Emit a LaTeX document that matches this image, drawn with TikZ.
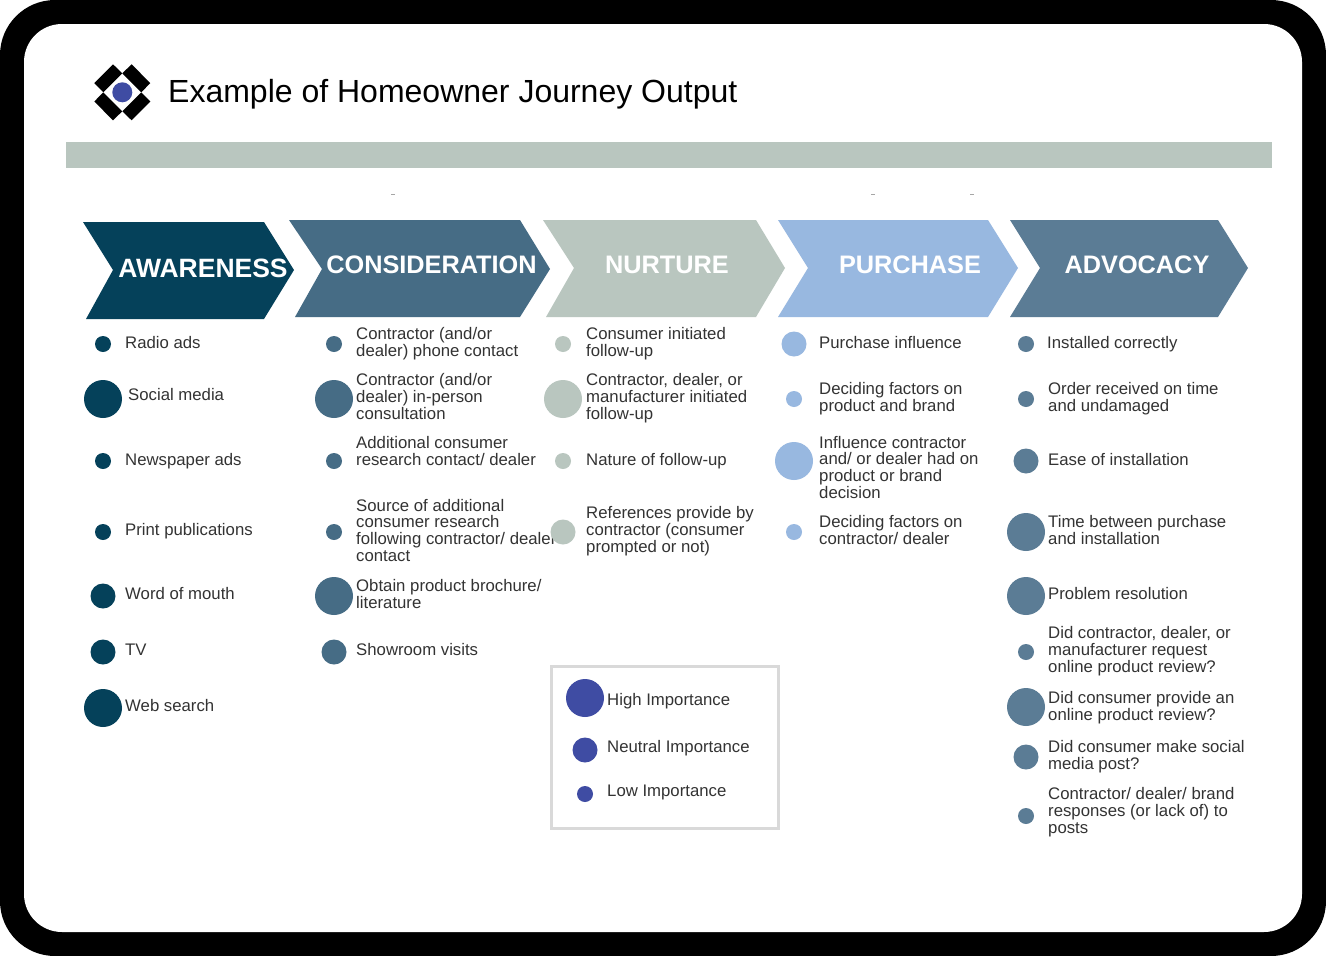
\documentclass[tikz,border=0pt]{standalone}
\usepackage{fontspec}
\setmainfont{Liberation Sans}
\definecolor{awcol}{HTML}{05415A}
\definecolor{cocol}{HTML}{466C85}
\definecolor{nucol}{HTML}{B9C6BF}
\definecolor{pucol}{HTML}{98B8E0}
\definecolor{adcol}{HTML}{5B7C95}
\definecolor{legcol}{HTML}{3F4CA3}
\definecolor{txtcol}{HTML}{333333}

\begin{document}
\begin{tikzpicture}[x=1pt, y=-1pt,
hdr/.style={text=white, font=\bfseries\fontsize{25.3}{25}\selectfont, inner sep=0},
lab/.style={anchor=west, align=left, text=txtcol, inner sep=0, text height=12.2pt, text depth=0pt, font=\fontsize{16.75}{16.6}\selectfont},
dot/.style={circle, inner sep=0},
lo/.style={dot, minimum size=16pt},
mid/.style={dot, minimum size=25pt},
hi/.style={dot, minimum size=38pt}]
	\useasboundingbox (0,0) rectangle (1326,956);
	\fill[black, rounded corners=55pt] (0,0) rectangle (1326,956);
	\fill[white, rounded corners=38pt] (24,24) rectangle (1302,932);
	% title
	\fill[black] (113,64.3) -- (94.3,83.1) -- (103.3,92.3) -- (122.3,73.3) -- cycle;
	\fill[black] (131.6,64.3) -- (150.3,83.1) -- (141.3,92.3) -- (122.3,73.3) -- cycle;
	\fill[black] (113,120.3) -- (94.3,101.5) -- (103.3,92.3) -- (122.3,111.3) -- cycle;
	\fill[black] (131.6,120.3) -- (150.3,101.5) -- (141.3,92.3) -- (122.3,111.3) -- cycle;
	\node[dot, fill=legcol, minimum size=20pt] at (122.3,92.3) (logo) {};
	\node[anchor=west, inner sep=0, font=\fontsize{32}{36}\selectfont] at (168,94) (title) {Example of Homeowner Journey Output};
	\fill[nucol] (66,142) rectangle (1272,168);
	\fill[gray!70] (391,193.5) rectangle (395,195);
	\fill[gray!70] (871,193.5) rectangle (875,195);
	\fill[gray!70] (970,193.5) rectangle (974,195);
	% chevrons
	\fill[awcol] (83,222) -- (264,222) -- (294,270) -- (264,319) -- (86,319) -- (113,270) -- cycle;
	\fill[cocol] (289,220) -- (520,220) -- (550,269) -- (520,317) -- (295,317) -- (322,269) -- cycle;
	\fill[nucol] (543,220) -- (756,220) -- (785,268) -- (756,317) -- (546,317) -- (574,268) -- cycle;
	\fill[pucol] (778,220) -- (988,220) -- (1018,268) -- (988,317) -- (778,317) -- (808,268) -- cycle;
	\fill[adcol] (1010,220) -- (1218,220) -- (1248,268) -- (1218,317) -- (1010,317) -- (1040,268) -- cycle;
	\node[hdr, font=\bfseries\fontsize{26.5}{25}\selectfont] at (203,268) (aw) {AWARENESS};
	\node[hdr] at (431.5,265) (co) {CONSIDERATION};
	\node[hdr] at (667,265) (nu) {NURTURE};
	\node[hdr] at (910,265) (pu) {PURCHASE};
	\node[hdr] at (1137,265) (ad) {ADVOCACY};
	% awareness
	\node[lab] at (125,342) (awt1) {Radio ads};
	\node[lab] at (128,394) (awt2) {Social media};
	\node[lab] at (125,459) (awt3) {Newspaper ads};
	\node[lab] at (125,529) (awt4) {Print publications};
	\node[lab] at (125,593) (awt5) {Word of mouth};
	\node[lab] at (125,649) (awt6) {TV};
	\node[lab] at (125,705) (awt7) {Web search};
	\node[lo, fill=awcol] at (103,344) (aw1) {};
	\node[hi, fill=awcol] at (103,399) (aw2) {};
	\node[lo, fill=awcol] at (103,461) (aw3) {};
	\node[lo, fill=awcol] at (103,532) (aw4) {};
	\node[mid, fill=awcol] at (103,596) (aw5) {};
	\node[mid, fill=awcol] at (103,652) (aw6) {};
	\node[hi, fill=awcol] at (103,708) (aw7) {};
	% consideration (labels are placed by their last line)
	\node[lab] at (356,350) (cot1) {Contractor (and/or\\dealer) phone contact};
	\node[lab] at (356,413) (cot2) {Contractor (and/or\\dealer) in-person\\consultation};
	\node[lab] at (356,459) (cot3) {Additional consumer\\research contact/ dealer};
	\node[lab] at (356,555) (cot4) {Source of additional\\consumer research\\following contractor/ dealer\\contact};
	\node[lab] at (356,602) (cot5) {Obtain product brochure/\\literature};
	\node[lab] at (356,649) (cot6) {Showroom visits};
	\node[lo, fill=cocol] at (334,344) (co1) {};
	\node[hi, fill=cocol] at (334,399) (co2) {};
	\node[lo, fill=cocol] at (334,461) (co3) {};
	\node[lo, fill=cocol] at (334,532) (co4) {};
	\node[hi, fill=cocol] at (334,596) (co5) {};
	\node[mid, fill=cocol] at (334,652) (co6) {};
	% nurture
	\node[lab] at (586,350) (nut1) {Consumer initiated\\follow-up};
	\node[lab] at (586,413) (nut2) {Contractor, dealer, or\\manufacturer initiated\\follow-up};
	\node[lab] at (586,459) (nut3) {Nature of follow-up};
	\node[lab] at (586,546) (nut4) {References provide by\\contractor (consumer\\prompted or not)};
	\node[lo, fill=nucol] at (563,344) (nu1) {};
	\node[hi, fill=nucol] at (563,399) (nu2) {};
	\node[lo, fill=nucol] at (563,461) (nu3) {};
	\node[mid, fill=nucol] at (563,532) (nu4) {};
	% purchase
	\node[lab] at (819,342) (put1) {Purchase influence};
	\node[lab] at (819,405) (put2) {Deciding factors on\\product and brand};
	\node[lab] at (819,492) (put3) {Influence contractor\\and/ or dealer had on\\product or brand\\decision};
	\node[lab] at (819,538) (put4) {Deciding factors on\\contractor/ dealer};
	\node[mid, fill=pucol] at (794,344) (pu1) {};
	\node[lo, fill=pucol] at (794,399) (pu2) {};
	\node[hi, fill=pucol] at (794,461) (pu3) {};
	\node[lo, fill=pucol] at (794,532) (pu4) {};
	% advocacy
	\node[lab] at (1047,342) (adt1) {Installed correctly};
	\node[lab] at (1048,405) (adt2) {Order received on time\\and undamaged};
	\node[lab] at (1048,459) (adt3) {Ease of installation};
	\node[lab] at (1048,538) (adt4) {Time between purchase\\and installation};
	\node[lab] at (1048,593) (adt5) {Problem resolution};
	\node[lab] at (1048,666) (adt6) {Did contractor, dealer, or\\manufacturer request\\online product review?};
	\node[lab] at (1048,714) (adt7) {Did consumer provide an\\online product review?};
	\node[lab] at (1048,763) (adt8) {Did consumer make social\\media post?};
	\node[lab] at (1048,827) (adt9) {Contractor/ dealer/ brand\\responses (or lack of) to\\posts};
	\node[lo, fill=adcol] at (1026,344) (ad1) {};
	\node[lo, fill=adcol] at (1026,399) (ad2) {};
	\node[mid, fill=adcol] at (1026,461) (ad3) {};
	\node[hi, fill=adcol] at (1026,532) (ad4) {};
	\node[hi, fill=adcol] at (1026,596) (ad5) {};
	\node[lo, fill=adcol] at (1026,652) (ad6) {};
	\node[hi, fill=adcol] at (1026,707) (ad7) {};
	\node[mid, fill=adcol] at (1026,757) (ad8) {};
	\node[lo, fill=adcol] at (1026,816) (ad9) {};
	% legend
	\draw[gray!30, line width=3pt] (551.5,666.5) rectangle (778,828);
	\node[hi, fill=legcol] at (585,698) (lg1) {};
	\node[mid, fill=legcol] at (585,750) (lg2) {};
	\node[lo, fill=legcol] at (585,794) (lg3) {};
	\node[lab] at (607,699) (lgt1) {High Importance};
	\node[lab] at (607,746) (lgt2) {Neutral Importance};
	\node[lab] at (607,790) (lgt3) {Low Importance};
\end{tikzpicture}
\end{document}
